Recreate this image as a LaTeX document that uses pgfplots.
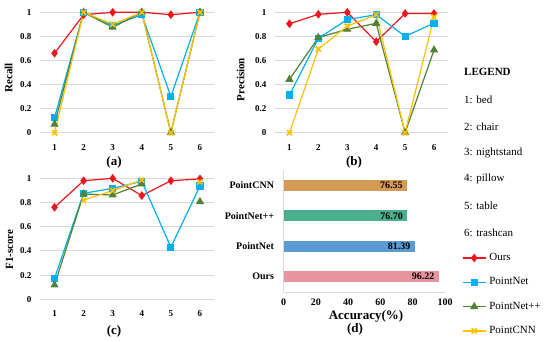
\documentclass[border=0pt]{standalone}
\usepackage{pgfplots}
\pgfplotsset{compat=1.18}
\usepackage{fontspec}
\setmainfont{Liberation Serif}
\definecolor{cOurs}{RGB}{240,20,30}
\definecolor{cPN}{RGB}{0,176,240}
\definecolor{cPNpp}{RGB}{84,130,53}
\definecolor{cCNN}{RGB}{255,192,0}
\definecolor{gridc}{RGB}{217,217,217}
\definecolor{bCNN}{RGB}{212,154,86}
\definecolor{bPNpp}{RGB}{75,175,143}
\definecolor{bPN}{RGB}{91,155,213}
\definecolor{bOurs}{RGB}{232,148,159}
\pgfplotsset{
 lineax/.style={
  anchor=south west, scale only axis, width=174.5bp, height=120.4bp,
  xmin=0.5, xmax=6.5, ymin=0, ymax=1,
  xtick={1,2,3,4,5,6}, ytick={0,0.2,0.4,0.6,0.8,1},
  axis line style={draw=none}, major tick length=0pt,
  ymajorgrids, grid style={draw=gridc, line width=0.8bp},
  clip=false, unbounded coords=jump,
  tick label style={font=\fontsize{9bp}{10bp}\selectfont\bfseries},
  /pgf/number format/assume math mode=true,
  xticklabel style={yshift=-8bp},
  yticklabel style={xshift=-5bp},
  every axis plot/.append style={line width=1.2bp},
  legend image code/.code={\draw[mark repeat=2,mark phase=2] plot coordinates {(0bp,0bp)(11.5bp,0bp)(23bp,0bp)};},
 },
 ours/.style={color=cOurs, mark=diamond*, mark size=3.4bp, mark options={solid}},
 pn/.style={color=cPN, mark=square*, mark size=3bp, mark options={solid}},
 pnpp/.style={color=cPNpp, mark=triangle*, mark size=3.6bp, mark options={solid}},
 cnn/.style={color=cCNN, mark=x, mark size=3.6bp, mark options={solid, line width=1.7bp}},
}
\begin{document}
\begin{tikzpicture}
\useasboundingbox (0bp,0bp) rectangle (550bp,342bp);
% (a) Recall
\begin{axis}[lineax, at={(40bp,209.3bp)}]
\addplot[ours] coordinates {(1,0.66)(2,0.98)(3,1.0)(4,1.0)(5,0.98)(6,1.0)};
\addplot[pn] coordinates {(1,0.125)(2,1.0)(3,0.89)(4,0.98)(5,0.30)(6,1.0)};
\addplot[pnpp] coordinates {(1,0.07)(2,1.0)(3,0.875)(4,1.0)(5,0.0)(6,1.0)};
\addplot[cnn] coordinates {(1,0.0)(2,1.0)(3,0.90)(4,1.0)(5,0.0)(6,1.0)};
\end{axis}
% (b) Precision
\begin{axis}[lineax, at={(275bp,209.3bp)}, width=173.5bp]
\addplot[ours] coordinates {(1,0.905)(2,0.983)(3,1.0)(4,0.756)(5,0.99)(6,0.99)};
\addplot[pn] coordinates {(1,0.313)(2,0.784)(3,0.94)(4,0.98)(5,0.80)(6,0.91)};
\addplot[pnpp] coordinates {(1,0.443)(2,0.79)(3,0.859)(4,0.908)(5,0.0)(6,0.687)};
\addplot[cnn] coordinates {(1,0.0)(2,0.695)(3,0.885)(4,0.98)(5,0.0)(6,0.96)};
\end{axis}
% (c) F1-score
\begin{axis}[lineax, at={(40bp,42.7bp)}, height=121bp,
  legend style={at={(2.418,0.04)}, anchor=west, draw=none, fill=none, inner sep=0pt,
    font=\fontsize{11bp}{12bp}\selectfont, row sep=12.3bp, column sep=2bp,
    cells={anchor=west}, nodes={text height=7.5bp, text depth=2.5bp, inner sep=1bp}}]
\addplot[ours] coordinates {(1,0.76)(2,0.98)(3,1.0)(4,0.857)(5,0.98)(6,0.995)};
\addplot[pn] coordinates {(1,0.174)(2,0.876)(3,0.917)(4,0.975)(5,0.43)(6,0.936)};
\addplot[pnpp] coordinates {(1,0.118)(2,0.87)(3,0.862)(4,0.953)(5,nan)(6,0.807)};
\addplot[cnn] coordinates {(1,nan)(2,0.82)(3,0.898)(4,0.986)(5,nan)(6,0.97)};
\legend{Ours,PointNet,PointNet++,PointCNN}
\end{axis}
% (d) Accuracy
\begin{axis}[anchor=south west, at={(283.5bp,50.1bp)}, scale only axis,
  width=161.5bp, height=121.6bp, xmin=0, xmax=100, ymin=0.5, ymax=4.5,
  xbar, bar width=11bp,
  xtick={0,20,40,60,80,100}, ytick={1,2,3,4},
  yticklabels={Ours,PointNet,PointNet++,PointCNN},
  axis x line*=bottom, axis y line*=left,
  axis line style={draw=gridc, line width=0.8bp, -},
  major tick length=0pt,
  tick label style={font=\fontsize{10bp}{11bp}\selectfont\bfseries},
  /pgf/number format/assume math mode=true,
  xticklabel style={yshift=-3bp},
  yticklabel style={xshift=-6bp},
  point meta=explicit symbolic,
  nodes near coords,
  nodes near coords style={anchor=east, xshift=-1bp, text=black, font=\fontsize{10bp}{11bp}\selectfont\bfseries},
  clip=false]
\addplot[draw=none, fill=bOurs, bar shift=0pt] coordinates {(96.22,1) [96.22]};
\addplot[draw=none, fill=bPN, bar shift=0pt] coordinates {(81.39,2) [81.39]};
\addplot[draw=none, fill=bPNpp, bar shift=0pt] coordinates {(76.70,3) [76.70]};
\addplot[draw=none, fill=bCNN, bar shift=0pt] coordinates {(76.55,4) [76.55]};
\end{axis}
% titles and labels
\begin{scope}[font=\fontsize{11bp}{12bp}\selectfont\bfseries]
\node[rotate=90] at (8.5bp,264bp) {Recall};
\node[rotate=90] at (240.5bp,262.5bp) {Precision};
\node[rotate=90] at (9.5bp,92.5bp) {F1-score};
\end{scope}
\begin{scope}[font=\fontsize{13bp}{14bp}\selectfont\bfseries]
\node at (114bp,180bp) {(a)};
\node at (354bp,180bp) {(b)};
\node at (114bp,10.3bp) {(c)};
\node at (355bp,13bp) {(d)};
\node at (366bp,25.3bp) {Accuracy(\%)};
\end{scope}
\begin{scope}[font=\fontsize{11bp}{12bp}\selectfont]
\node[anchor=west, inner sep=0pt, font=\fontsize{11bp}{12bp}\selectfont\bfseries] at (464bp,270bp) {LEGEND};
\node[anchor=west, inner sep=0pt] at (464bp,242bp) {1: bed};
\node[anchor=west, inner sep=0pt] at (464bp,215bp) {2: chair};
\node[anchor=west, inner sep=0pt] at (464bp,189bp) {3: nightstand};
\node[anchor=west, inner sep=0pt] at (464bp,163bp) {4: pillow};
\node[anchor=west, inner sep=0pt] at (464bp,136bp) {5: table};
\node[anchor=west, inner sep=0pt] at (464bp,109bp) {6: trashcan};
\end{scope}
\end{tikzpicture}
\end{document}
